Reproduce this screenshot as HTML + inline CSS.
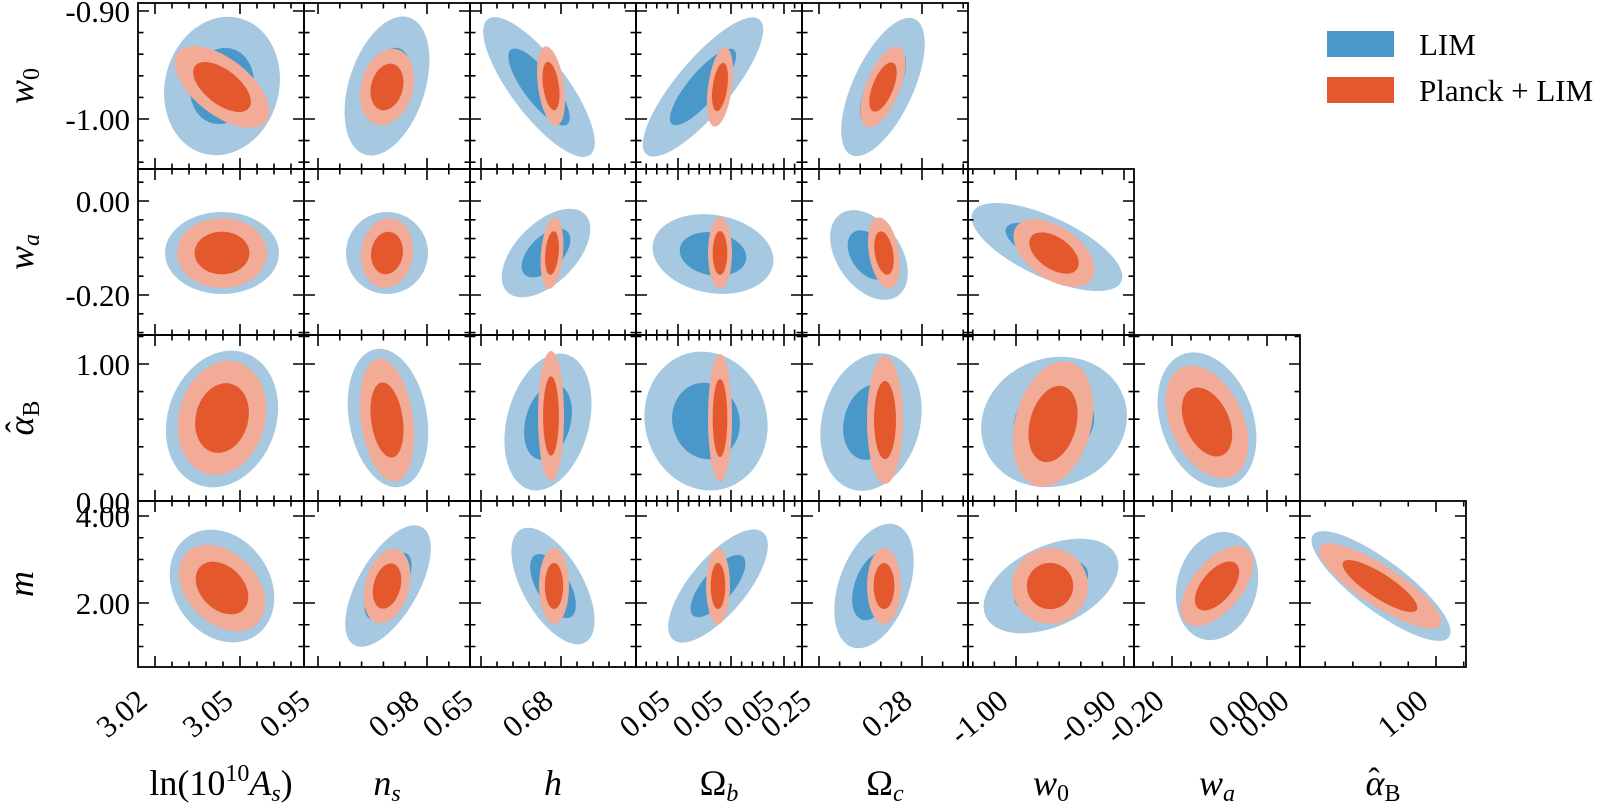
<!DOCTYPE html>
<html><head><meta charset="utf-8"><style>
html,body{margin:0;padding:0;background:#fff;width:1600px;height:809px;overflow:hidden}
svg{display:block}
svg text{font-family:"Liberation Serif","DejaVu Serif",serif;fill:#000}
</style></head><body>
<svg id="s" width="1600" height="809" viewBox="0 0 1600 809" xmlns="http://www.w3.org/2000/svg" font-family="Liberation Serif, DejaVu Serif, serif">
<g id="g"></g>
<g font-size="31" text-anchor="end" font-family="Liberation Serif, serif">
<text x="130" y="22">-0.90</text>
<text x="130" y="130">-1.00</text>
<text x="130" y="212">0.00</text>
<text x="130" y="306">-0.20</text>
<text x="130" y="375">1.00</text>
<text x="130" y="513">0.00</text>
<text x="130" y="527">4.00</text>
<text x="130" y="614">2.00</text>
</g>
<g font-size="31" text-anchor="end" font-family="Liberation Serif, serif">
<text transform="translate(149,704) rotate(-40)">3.02</text>
<text transform="translate(235,704) rotate(-40)">3.05</text>
<text transform="translate(312,704) rotate(-40)">0.95</text>
<text transform="translate(421,704) rotate(-40)">0.98</text>
<text transform="translate(475,704) rotate(-40)">0.65</text>
<text transform="translate(555,704) rotate(-40)">0.68</text>
<text transform="translate(672,704) rotate(-40)">0.05</text>
<text transform="translate(725,704) rotate(-40)">0.05</text>
<text transform="translate(776,704) rotate(-40)">0.05</text>
<text transform="translate(813,704) rotate(-40)">0.25</text>
<text transform="translate(914,704) rotate(-40)">0.28</text>
<text transform="translate(1010,704) rotate(-40)">-1.00</text>
<text transform="translate(1118,704) rotate(-40)">-0.90</text>
<text transform="translate(1166,704) rotate(-40)">-0.20</text>
<text transform="translate(1261,704) rotate(-40)">0.00</text>
<text transform="translate(1291,704) rotate(-40)">0.00</text>
<text transform="translate(1430,704) rotate(-40)">1.00</text>
</g>
<g font-size="36" text-anchor="middle" font-family="Liberation Serif, serif">
<text x="221" y="795">ln(10<tspan font-size="24" dy="-14">10</tspan><tspan font-style="italic" dy="14">A</tspan><tspan font-style="italic" font-size="24" dy="6">s</tspan><tspan dy="-6">)</tspan></text>
<text x="387" y="795" font-style="italic">n<tspan font-size="24" dy="6">s</tspan></text>
<text x="553" y="795" font-style="italic">h</text>
<text x="719" y="795">Ω<tspan font-style="italic" font-size="24" dy="6">b</tspan></text>
<text x="885" y="795">Ω<tspan font-style="italic" font-size="24" dy="6">c</tspan></text>
<text x="1051" y="795" font-style="italic">w<tspan font-style="normal" font-size="24" dy="6">0</tspan></text>
<text x="1217" y="795" font-style="italic">w<tspan font-size="24" dy="6">a</tspan></text>
<g transform="translate(1383,795)"><text x="0" y="0" font-style="italic">α<tspan font-style="normal" font-size="24" dy="6">B</tspan></text><text x="-9" y="-4" font-size="34">ˆ</text></g>
<text transform="translate(33,86) rotate(-90)" font-style="italic">w<tspan font-style="normal" font-size="24" dy="6">0</tspan></text>
<text transform="translate(33,252) rotate(-90)" font-style="italic">w<tspan font-size="24" dy="6">a</tspan></text>
<g transform="translate(33,418) rotate(-90)"><text x="0" y="0" font-style="italic">α<tspan font-style="normal" font-size="24" dy="6">B</tspan></text><text x="-9" y="-4" font-size="34">ˆ</text></g>
<text transform="translate(33,584) rotate(-90)" font-style="italic">m</text>
</g>
<rect x="1327" y="31" width="67" height="26" fill="#4a98c9"/>
<rect x="1327" y="77" width="67" height="26" fill="#e4582e"/>
<g font-size="31" font-family="Liberation Serif, serif"><text x="1419" y="55">LIM</text><text x="1419" y="101">Planck + LIM</text></g>
</svg>
<script>
(function(){
var X0=138,Y0=3,S=166,ns="http://www.w3.org/2000/svg",g=document.getElementById('g');
function el(t,a){var e=document.createElementNS(ns,t);for(var k in a)e.setAttribute(k,a[k]);g.appendChild(e);return e;}
var P=[
[0,0,[84,83,57,70,15],[84,84,56,28,38]],
[0,1,[83,83,38,72,18],[83,84,26,39,15]],
[0,2,[69,84,28,85,-37],[81,83,13,40,-8]],
[0,3,[67,84,27,88,40],[84,84,12,40,8]],
[0,4,[81,84,30,75,25],[81,84,17,43,22]],
[1,0,[84,84,57,41,0],[84,84,45,35,0]],
[1,1,[83,84,41,41,0],[83,84,26,35,8]],
[1,2,[76,84,30,55,45],[82,84,11,36,5]],
[1,3,[77,85,61,39,10],[84,84,12,36,0]],
[1,4,[67,86,32,50,-35],[82,84,15,36,-10]],
[1,5,[79,78,82,30,25],[86,84,46,26,35]],
[2,0,[84,84,54,70,20],[84,83,43,58,15]],
[2,1,[84,83,39,70,-10],[83,85,26,62,-8]],
[2,2,[78,87,41,70,15],[81,81,13,65,0]],
[2,3,[70,86,61,70,-15],[84,83,12,64,0]],
[2,4,[69,87,49,70,15],[83,85,18,64,0]],
[2,5,[86,87,74,64,-20],[85,89,38,64,15]],
[2,6,[73,85,46,70,-20],[73,87,36,60,-25]],
[3,0,[84,85,48,60,-35],[84,87,35,50,-45]],
[3,1,[84,85,30,68,30],[83,85,22,38,15]],
[3,2,[83,85,30,65,-30],[84,85,15,38,0]],
[3,3,[82,85,28,70,40],[82,85,12,38,0]],
[3,4,[72,85,35,65,20],[82,85,17,38,0]],
[3,5,[83,85,72,40,-25],[82,85,38,38,0]],
[3,6,[83,85,40,55,15],[83,85,25,48,40]],
[3,7,[81,85,85,25,37],[80,85,72,20,33]]];
var R=[[8,21.6,5],[32,18.8,5],[29,27.6,5],[15,21.75,4]];
var C=[[17,17,5],[14,21.8,5],[11,16,5],[42,10.6,5],[17,20.6,5],[48,21.6,5],[38,19,5],[136,27.7,5]];
function ell(x,y,p,sc,f){el('ellipse',{cx:x+p[0],cy:y+p[1],rx:p[2]*sc,ry:p[3]*sc,fill:f,transform:'rotate('+p[4]+' '+(x+p[0])+' '+(y+p[1])+')'});}
function pos(d){var a=[],k0=Math.ceil(-d[0]/d[1]);for(var k=k0;;k++){var p=d[0]+k*d[1];if(p>S-1)break;if(p>1)a.push([p,((k%d[2])+d[2])%d[2]==0]);}return a;}
P.forEach(function(q){
 var r=q[0],c=q[1],x=X0+c*S,y=Y0+r*S;
 var cp=el('clipPath',{id:'c'+r+c});var rr=document.createElementNS(ns,'rect');rr.setAttribute('x',x);rr.setAttribute('y',y);rr.setAttribute('width',S);rr.setAttribute('height',S);cp.appendChild(rr);
 var gg=g;var sub=el('g',{'clip-path':'url(#c'+r+c+')'});g=sub;
 ell(x,y,q[2],1,'#a6c8e0');ell(x,y,q[2],0.55,'#4a98c9');
 ell(x,y,q[3],1,'#f2ab96');ell(x,y,q[3],0.61,'#e4582e');
 g=gg;
 var d='';
 pos(R[r]).forEach(function(t){var L=t[1]?11:5.5,yy=y+t[0];d+='M'+x+' '+yy+'h'+L+'M'+(x+S)+' '+yy+'h'+(-L);});
 pos(C[c]).forEach(function(t){var L=t[1]?11:5.5,xx=x+t[0];d+='M'+xx+' '+y+'v'+L+'M'+xx+' '+(y+S)+'v'+(-L);});
 el('path',{d:d,stroke:'#000','stroke-width':1.6,fill:'none'});
 el('rect',{x:x,y:y,width:S,height:S,fill:'none',stroke:'#000','stroke-width':1.8});
});
})();
</script>
</body></html>
